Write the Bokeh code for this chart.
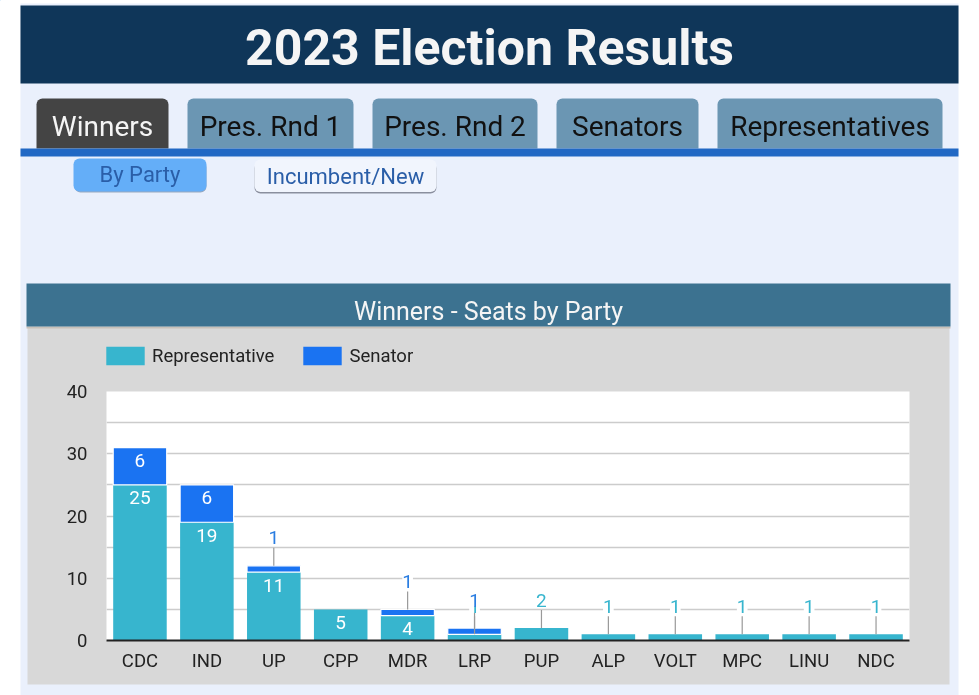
from bokeh.core.properties import value
from bokeh.embed import file_html
from bokeh.resources import INLINE
from bokeh.plotting import figure
from bokeh.models import (BoxAnnotation, Label, LabelSet, ColumnDataSource, FixedTicker,
                          Legend, LegendItem, FactorRange)

parties = ["CDC", "IND", "UP", "CPP", "MDR", "LRP", "PUP", "ALP", "VOLT", "MPC", "LINU", "NDC"]
representative = [25, 19, 11, 5, 4, 1, 2, 1, 1, 1, 1, 1]
senator = [6, 6, 1, 0, 1, 1, 0, 0, 0, 0, 0, 0]
y_ticks = [0, 10, 20, 30, 40]
grid_major = [10, 20, 30]
grid_minor = [5, 15, 25, 35]
tabs = ["Winners", "Pres. Rnd 1", "Pres. Rnd 2", "Senators", "Representatives"]
series_names = ["Representative", "Senator"]

W, H = 979, 695
FONT = "Roboto"
TEAL, BLUE = "#37B5CE", "#1A73F2"
PX_PER_UNIT = 249 / 40
FIXED = {"position": "fixed", "left": "0px", "top": "0px"}

# ---- page furniture: a figure whose frame is the whole window
bg = figure(width=W, height=H, output_backend="svg", toolbar_location=None,
            x_range=(0, W), y_range=(H, 0), x_axis_location=None, y_axis_location=None,
            min_border=0, background_fill_color="white", border_fill_color="white",
            outline_line_color=None)
bg.grid.visible = False
bg.styles = FIXED


def box(x0, x1, y0, y1, color, radius=0):
    bg.add_layout(BoxAnnotation(left=x0, right=x1, top=y0, bottom=y1, fill_color=color, fill_alpha=1,
                                line_color=None, border_radius=radius, editable=False))


def text(x, y, s, size, color, style="normal"):
    bg.add_layout(Label(x=x, y=y, text=s, text_font=FONT, text_font_size=f"{size}px", text_color=color,
                        text_font_style=style, text_align="center", text_baseline="middle"))


box(20, 958, 3, 695, "#EAF0FC")
box(20, 958, 5, 83, "#0F3659")
text(489, 47, "2023 Election Results", 50, "#F5F5F5", "bold")
tab_x = [(36, 168), (187, 353), (372, 537), (556, 698), (717, 942)]
for i, ((a, b), name) in enumerate(zip(tab_x, tabs)):
    box(a, b, 98, 148, "#444444" if i == 0 else "#6B96B3", radius=(6, 6, 0, 0))
    text((a + b) / 2, 126, name, 28, "#F5F5F5" if i == 0 else "#111111")
box(20, 958, 148, 156, "#2168C4")
box(74, 206, 161, 192, "#9AA9BE", radius=6)
box(73, 206, 158, 191, "#64AEF8", radius=6)
text(139.5, 174, "By Party", 22, "#2A5EA8")
box(254, 436, 162, 193, "#8A8F9E", radius=6)
box(254, 436, 159, 191.5, "#F1F5FD", radius=6)
text(345, 176, "Incumbent/New", 22, "#2A5EA8")
box(27, 949, 326, 684, "#D8D8D8")
box(26, 950, 326, 328, "#C7C0B8")
box(26, 950, 283, 326, "#3C7290")
text(488, 311, "Winners - Seats by Party", 25, "#F5F5F5")

# legend swatches: bars parked outside the visible range, only their legend glyphs show
swatches = [bg.vbar(x=[-100], top=[-100], bottom=[-110], width=1, color=c, line_color=None) for c in (TEAL, BLUE)]
bg.add_layout(Legend(items=[LegendItem(label=n, renderers=[r]) for n, r in zip(series_names, swatches)],
                     orientation="horizontal", location=(101, H - 367), background_fill_alpha=0,
                     border_line_color=None, margin=0, padding=0, spacing=24, glyph_width=48,
                     glyph_height=23, label_standoff=3, label_text_font=FONT,
                     label_text_font_size="18.5px", label_text_color="#222222", label_height=23), "center")

# ---- chart
p = figure(width=W, height=H, output_backend="svg", toolbar_location=None,
           x_range=FactorRange(*parties, range_padding=0), y_range=(0, 40),
           min_border_left=106, min_border_right=70, min_border_top=391, min_border_bottom=55,
           background_fill_color="white", border_fill_alpha=0, outline_line_color=None)
p.styles = FIXED

p.xgrid.grid_line_color = None
p.yaxis.ticker = FixedTicker(ticks=y_ticks)
p.ygrid.ticker = FixedTicker(ticks=grid_major, minor_ticks=grid_minor)
p.ygrid.grid_line_color = "#CCCCCC"
p.ygrid.grid_line_width = 1.3
p.ygrid.minor_grid_line_color = "#CCCCCC"
p.ygrid.minor_grid_line_width = 1.3
p.yaxis.axis_line_color = None
p.yaxis.major_tick_line_color = None
p.yaxis.minor_tick_line_color = None
p.yaxis.major_label_standoff = 13
p.xaxis.major_tick_line_color = None
p.xaxis.minor_tick_line_color = None
p.xaxis.axis_line_color = "#222222"
p.xaxis.axis_line_width = 2
p.xaxis.major_label_standoff = 3
for ax in (p.xaxis, p.yaxis):
    ax.major_label_text_font = FONT
    ax.major_label_text_font_size = "18.5px"
    ax.major_label_text_color = "#222222"

src = ColumnDataSource(dict(
    party=parties, Representative=representative, Senator=senator,
    sen_line=["white" if v > 0 else "rgba(0,0,0,0)" for v in senator],
))
bars = p.vbar_stack(series_names, x="party", width=0.8, source=src, color=[TEAL, BLUE], line_color=None)
bars[1].glyph.line_color = {"field": "sen_line"}
bars[1].glyph.line_width = 1.2


def columns(indices, base, vals):
    return dict(party=[parties[i] for i in indices],
                y=[base[i] + vals[i] for i in indices],
                leader=[base[i] + vals[i] + 18 / PX_PER_UNIT for i in indices],
                t=[str(vals[i]) for i in indices])


zero = [0] * len(parties)
rng = range(len(parties))
series = [(representative, zero, TEAL, 2), (senator, representative, "#2A7DE1", 1)]
outs = []
for vals, base, color, limit in series:
    ins = ColumnDataSource(columns([i for i in rng if vals[i] > limit], base, vals))
    p.add_layout(LabelSet(x="party", y="y", text="t", source=ins, y_offset=-13, text_color="white",
                          text_font=value(FONT), text_font_size="19px", text_font_style="normal",
                          text_align="center", text_baseline="middle"))
    out = ColumnDataSource(columns([i for i in rng if 0 < vals[i] <= limit], base, vals))
    p.segment(x0="party", x1="party", y0="y", y1="leader", source=out, line_color="#999999", line_width=1.2)
    outs.append((out, color))
for out, color in outs:
    p.add_layout(LabelSet(x="party", y="y", text="t", source=out, y_offset=28, text_color=color,
                          text_font=value(FONT), text_font_size="19px", text_align="center",
                          text_baseline="middle", background_fill_color="white", background_fill_alpha=1))

open("out.html", "w").write(file_html([bg, p], INLINE))
